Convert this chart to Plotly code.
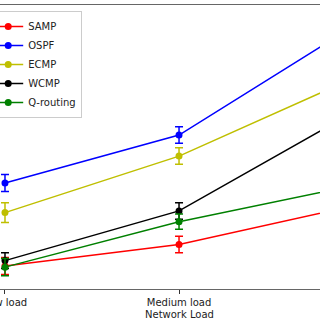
import plotly.graph_objects as go

loads = ["Low load", "Medium load", "High load"]
x_pos = [0, 1, 2]

series_names = ["SAMP", "OSPF", "ECMP", "WCMP", "Q-routing"]
series_colors = ["#ff0000", "#0000ff", "#bfbf00", "#000000", "#008000"]

samp = [8.1, 15.7, 29.2]
ospf = [37.3, 54.2, 92.4]
ecmp = [26.9, 46.8, 74.2]
wcmp = [10.0, 27.5, 62.2]
qrouting = [7.7, 23.7, 36.4]

samp_err = [3.0, 2.9, 3.0]
ospf_err = [3.0, 2.9, 3.0]
ecmp_err = [3.5, 2.9, 3.0]
wcmp_err = [2.8, 2.9, 3.0]
qrouting_err = [3.0, 2.7, 3.0]

values = [samp, ospf, ecmp, wcmp, qrouting]
errors = [samp_err, ospf_err, ecmp_err, wcmp_err, qrouting_err]

fig = go.Figure()
for name, col, v, e in zip(series_names, series_colors, values, errors):
    fig.add_trace(go.Scatter(
        x=x_pos, y=v, name=name, mode="lines+markers",
        line=dict(color=col, width=1.5),
        marker=dict(color=col, size=7, symbol="circle"),
        error_y=dict(type="data", array=e, visible=True, color=col, thickness=1.5, width=4),
        cliponaxis=True,
    ))

FONT = "DejaVu Sans"
fig.update_layout(
    width=320, height=320,
    margin=dict(l=0, r=0, t=5, b=31, autoexpand=False),
    paper_bgcolor="white", plot_bgcolor="white",
    font=dict(family=FONT, size=10, color="#222"),
    showlegend=True,
    legend=dict(
        x=-0.04, y=0.979, xanchor="left", yanchor="top",
        bgcolor="rgba(255,255,255,0.85)", bordercolor="#cccccc", borderwidth=1,
        font=dict(family=FONT, size=10, color="#222"),
        tracegroupgap=0,
    ),
    xaxis=dict(
        range=[-0.0287, 1.810], automargin=False,
        tickmode="array", tickvals=x_pos, ticktext=loads,
        ticklabeloverflow="allow",
        ticks="outside", ticklen=4, tickcolor="#333", tickwidth=1,
        showline=True, linecolor="#666", linewidth=1.3, mirror=True,
        showgrid=False, zeroline=False,
        tickfont=dict(family=FONT, size=10, color="#222"),
    ),
    yaxis=dict(
        range=[0, 100], showticklabels=False, showgrid=False, automargin=False,
        zeroline=False, showline=False, ticks="",
    ),
    annotations=[dict(
        text="Network Load", x=1, xref="x", y=-0.0915, yref="paper", yanchor="middle",
        showarrow=False, font=dict(family=FONT, size=10, color="#222"),
    )],
)

fig.write_html("out.html")
